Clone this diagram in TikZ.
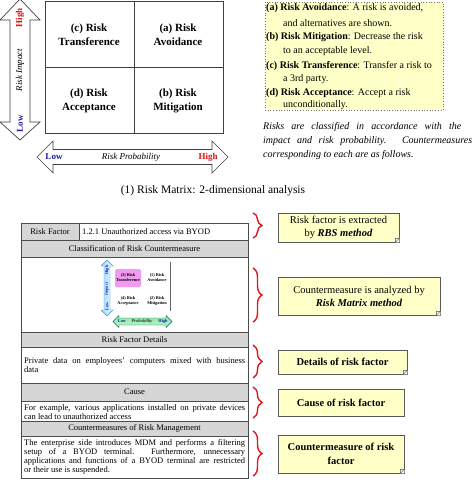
\documentclass[tikz,border=0pt]{standalone}
\usepackage{fontspec}
\setmainfont{Liberation Serif}
\usetikzlibrary{decorations.pathreplacing,shadows}
\definecolor{hired}{HTML}{E01010}
\definecolor{loblue}{HTML}{1A1AA8}
\definecolor{noteyel}{HTML}{FFFFC8}
\definecolor{hdrgray}{HTML}{D6D6D6}
\definecolor{bracered}{HTML}{E01818}
\definecolor{pinkbox}{HTML}{F29AF0}
\tikzset{
  outl/.style={draw=black!75, line width=0.7pt},
  quad/.style={font=\fontsize{11}{14}\selectfont\bfseries, align=center, inner sep=0pt},
  axlbl/.style={font=\fontsize{9}{10}\selectfont\bfseries, inner sep=0pt},
  axital/.style={font=\fontsize{9}{10}\selectfont\itshape, inner sep=0pt},
  legline/.style={font=\fontsize{10}{12}\selectfont, anchor=west, inner sep=0pt},
  parline/.style={font=\fontsize{10}{12}\selectfont\itshape, anchor=west, inner sep=0pt},
  tbl/.style={draw=black!70, line width=0.5pt},
  tbltxt/.style={font=\fontsize{8.5}{9}\selectfont, inner sep=0pt},
  tblline/.style={font=\fontsize{8.5}{9}\selectfont, anchor=west, inner sep=0pt},
  mini/.style={font=\fontsize{4.3}{5.6}\selectfont\bfseries, align=center, inner sep=0pt},
  note/.style={draw=black!65, line width=0.6pt, fill=noteyel, align=center, inner sep=0pt,
    font=\fontsize{10.5}{13}\selectfont,
    drop shadow={shadow xshift=1pt, shadow yshift=-1pt, fill=black!30}},
  bracestyle/.style={draw=bracered, line width=1.4pt,
    decorate, decoration={brace, amplitude=9pt}},
}
\begin{document}
\begin{tikzpicture}[x=1pt,y=-1pt]
\useasboundingbox (0,0) rectangle (474,484);

% ---------- Risk matrix ----------
\draw[outl] (45,1) rectangle (223,133);
\draw[outl] (134,1) -- (134,133);
\draw[outl] (45,67) -- (223,67);
\node[quad] (qc) at (89,35) {(c) Risk\\Transference};
\node[quad] (qa) at (178,35) {(a) Risk\\Avoidance};
\node[quad] (qd) at (89,101) {(d) Risk\\Acceptance};
\node[quad] (qb) at (178,101) {(b) Risk\\Mitigation};

% vertical block arrow
\draw[outl, fill=white] (20,-1) -- (40,20) -- (30,20) -- (30,122) -- (40,122) -- (20,140)
  -- (0,122) -- (10,122) -- (10,20) -- (0,20) -- cycle;
\node[axlbl, text=hired, rotate=90] (vhigh) at (20,18) {High};
\node[axital, rotate=90] (vimp) at (20,70) {Risk Impact};
\node[axlbl, text=loblue, rotate=90] (vlow) at (20,124) {Low};

% horizontal block arrow
\draw[outl, fill=white] (37,157) -- (53,141) -- (53,149.5) -- (212,149.5) -- (212,141)
  -- (228,157) -- (212,173) -- (212,164.5) -- (53,164.5) -- (53,173) -- cycle;
\node[axlbl, text=loblue] (hlow) at (54,157) {Low};
\node[axital] (hprob) at (131,157) {Risk Probability};
\node[axlbl, text=hired] (hhigh) at (208,157) {High};

% legend box
\draw[draw=black!55, dotted, line width=0.7pt, fill=noteyel] (265,2) rectangle (443,110);
\node[legline] (la1) at (266,8) {\textbf{(a) Risk Avoidance}: A risk is avoided,};
\node[legline] (la2) at (283,23) {and alternatives are shown.};
\node[legline] (lb1) at (266,37) {\textbf{(b) Risk Mitigation}: Decrease the risk};
\node[legline] (lb2) at (283,51) {to an acceptable level.};
\node[legline] (lc1) at (266,66) {\textbf{(c) Risk Transference}: Transfer a risk to};
\node[legline] (lc2) at (283,79) {a 3rd party.};
\node[legline] (ld1) at (266,93) {\textbf{(d) Risk Acceptance}: Accept a risk};
\node[legline] (ld2) at (283,105) {unconditionally.};

% italic paragraph
\node[parline] (p1) at (263,127) {\makebox[198pt][s]{Risks are classified in accordance with the}};
\node[parline] (p2) at (263,141) {\makebox[209pt][s]{impact and risk probability. Countermeasures}};
\node[parline] (p3) at (263,155) {corresponding to each are as follows.};

% caption
\node[font=\fontsize{11.5}{13}\selectfont, inner sep=0pt] (cap) at (213,191) {(1) Risk Matrix: 2-dimensional analysis};

% ---------- Table ----------
\fill[hdrgray] (21,223) rectangle (79,240);
\fill[hdrgray] (21,240) rectangle (248,257);
\fill[hdrgray] (21,332) rectangle (248,347);
\fill[hdrgray] (21,383) rectangle (248,401);
\fill[hdrgray] (21,421) rectangle (248,436);
\draw[tbl] (21,223) rectangle (248,478);
\draw[tbl] (79,223) -- (79,240);
\foreach \yy in {240,257,332,347,383,401,421,436} \draw[tbl] (21,\yy) -- (248,\yy);

\node[tbltxt] (rf) at (50,231.5) {Risk Factor};
\node[tbltxt, anchor=west] (rfv) at (82,231.5) {1.2.1 Unauthorized access via BYOD};
\node[tbltxt] (crc) at (134.5,248.5) {Classification of Risk Countermeasure};
\node[tbltxt] (rfd) at (134.5,339.5) {Risk Factor Details};
\node[tbltxt] (cau) at (134.5,392) {Cause};
\node[tbltxt] (crm) at (134.5,428.5) {Countermeasures of Risk Management};

\node[tblline] (d1) at (24,361) {\makebox[221pt][s]{Private data on employees' computers mixed with business}};
\node[tblline] (d2) at (24,370) {data};
\node[tblline] (c1) at (24,408) {\makebox[221pt][s]{For example, various applications installed on private devices}};
\node[tblline] (c2) at (24,417) {can lead to unauthorized access};
\node[tblline] (m1) at (24,443) {\makebox[221pt][s]{The enterprise side introduces MDM and performs a filtering}};
\node[tblline] (m2) at (24,452) {\makebox[221pt][s]{setup of a BYOD terminal. Furthermore, unnecessary}};
\node[tblline] (m3) at (24,461) {\makebox[221pt][s]{applications and functions of a BYOD terminal are restricted}};
\node[tblline] (m4) at (24,470) {or their use is suspended.};

% mini risk matrix inside table
\fill[pinkbox, rounded corners=1.5pt] (115,269) rectangle (141,287);
\draw[black!60, line width=0.5pt] (170,262) -- (170,311);
\draw[draw=cyan!50!blue!70, line width=0.4pt, left color=cyan!55!blue!35, right color=cyan!15]
  (107,260) -- (113,266) -- (110,266) -- (110,310) -- (113,310) -- (107,316)
  -- (101,310) -- (104,310) -- (104,266) -- (101,266) -- cycle;
\draw[draw=teal!80!black, line width=0.4pt, top color=teal!45!green!45, bottom color=teal!20!green!25]
  (113,321.5) -- (119,315.5) -- (119,318) -- (166,318) -- (166,315.5) -- (172,321.5)
  -- (166,327.5) -- (166,325) -- (119,325) -- (119,327.5) -- cycle;
\node[mini, text=loblue, rotate=90] (mvh) at (107,270) {High};
\node[mini, text=loblue, font=\fontsize{4.3}{5}\selectfont\bfseries\itshape, rotate=90] (mvi) at (107,289) {Impact};
\node[mini, text=loblue, rotate=90] (mvl) at (107,306) {Low};
\node[mini, text=loblue] (mhl) at (122,321.5) {Low};
\node[mini, text=black!80, font=\fontsize{4.6}{5}\selectfont\bfseries\itshape] (mhp) at (142,321.5) {Probability};
\node[mini, text=loblue] (mhh) at (163,321.5) {High};
\node[mini] (m3q) at (128,277.5) {(3) Risk\\Transference};
\node[mini] (m1q) at (157,277.5) {(1) Risk\\Avoidance};
\node[mini] (m4q) at (128,301) {(4) Risk\\Acceptance};
\node[mini] (m2q) at (157,301) {(2) Risk\\Mitigation};

% ---------- Braces ----------
\draw[bracestyle] (253,213) -- (253,238);
\draw[bracestyle] (253,268) -- (253,322);
\draw[bracestyle] (253,345) -- (253,378);
\draw[bracestyle] (253,387) -- (253,418);
\draw[bracestyle] (253,431) -- (253,476);

% ---------- Notes ----------
\node[note, minimum width=121pt, minimum height=29pt] (n1) at (338.5,227.5)
  {Risk factor is extracted\\by \textbf{\textit{RBS method}}};
\node[note, minimum width=162pt, minimum height=38pt] (n2) at (359,296)
  {Countermeasure is analyzed by\\\textbf{\textit{Risk Matrix method}}};
\node[note, minimum width=129pt, minimum height=24pt, font=\fontsize{10.5}{13}\selectfont\bfseries] (n3) at (342.5,362)
  {Details of risk factor};
\node[note, minimum width=126pt, minimum height=27pt, font=\fontsize{10.5}{13}\selectfont\bfseries] (n4) at (341,402.5)
  {Cause of risk factor};
\node[note, minimum width=126pt, minimum height=38pt, font=\fontsize{10.5}{14}\selectfont\bfseries] (n5) at (341,454)
  {Countermeasure of risk\\factor};
\foreach \nn in {n1,n2,n3,n5} {
  \fill[white] ([xshift=-4pt]\nn.south east) -- (\nn.south east) -- ([yshift=4pt]\nn.south east) -- cycle;
  \draw[black!65, line width=0.5pt, fill=noteyel!70!black!20] ([xshift=-4pt]\nn.south east)
    -- ([yshift=4pt]\nn.south east) -- ([xshift=-4pt,yshift=4pt]\nn.south east) -- cycle;
}
\end{tikzpicture}
\end{document}
